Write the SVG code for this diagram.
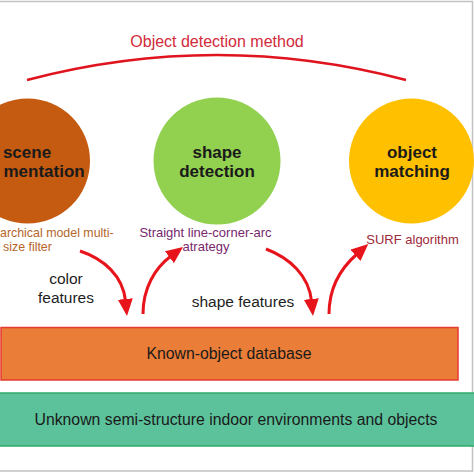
<svg xmlns="http://www.w3.org/2000/svg" width="474" height="474" viewBox="0 0 474 474">
<defs>
<style>
.t{font-family:"Liberation Sans",Arial,sans-serif}
.bold{font-weight:bold;font-size:17px;fill:#1a1a1a;text-anchor:middle}
.sub{font-size:13px}
.lbl{font-size:15.5px;fill:#1e1e1e;text-anchor:middle}
.arr{fill:none;stroke:#e8141b;stroke-width:3}
</style>
<marker id="ah" markerUnits="userSpaceOnUse" markerWidth="18" markerHeight="16" refX="2" refY="7.5" orient="auto">
<path d="M0,0 L17,7.5 L0,15 z" fill="#e8141b"/>
</marker>
</defs>
<rect x="0" y="0" width="474" height="474" fill="#ffffff"/>
<rect x="-5" y="1.5" width="477.5" height="469.5" fill="none" stroke="#c2c2c2" stroke-width="1.5"/>

<g id="title">
<path d="M27,80 Q217,30 406,80" fill="none" stroke="#e0141e" stroke-width="2.5"/>
<text class="t" x="217" y="47" font-size="16" fill="#d22a3a" text-anchor="middle">Object detection method</text>
</g>

<g id="node-scene">
<circle cx="27.5" cy="161" r="62.5" fill="#c55a11"/>
<text class="t bold" x="27" y="157.5">scene</text>
<text class="t" x="3.5" y="176.5" font-weight="bold" font-size="17" fill="#1a1a1a">mentation</text>
<text class="t" x="0" y="237" font-size="12.4" fill="#b5662b">archical model multi-</text>
<text class="t" x="3" y="251" font-size="12.4" fill="#b5662b">size filter</text>
</g>

<g id="node-shape">
<circle cx="217" cy="161" r="63.5" fill="#92d050"/>
<text class="t bold" x="217" y="157.5">shape</text>
<text class="t bold" x="217" y="176.5">detection</text>
<text class="t sub" x="205.5" y="237" fill="#78286e" text-anchor="middle">Straight line-corner-arc</text>
<text class="t sub" x="206" y="251" fill="#78286e" text-anchor="middle">atrategy</text>
</g>

<g id="node-match">
<circle cx="411.5" cy="161" r="62.5" fill="#ffc000"/>
<text class="t bold" x="412" y="157.5">object</text>
<text class="t bold" x="412" y="176.5" font-size="16.5">matching</text>
<text class="t sub" x="412.5" y="244" fill="#9e2a3a" text-anchor="middle">SURF algorithm</text>
</g>

<g id="connectors">
<path class="arr" d="M80,251 C104,259 123,276 125.5,301" marker-end="url(#ah)"/>
<path class="arr" d="M143,314 C143,288 155,268 171,256" marker-end="url(#ah)"/>
<path class="arr" d="M266,249 C290,258 309,276 311.5,301" marker-end="url(#ah)"/>
<path class="arr" d="M329,314 C329,288 341,268 357,254" marker-end="url(#ah)"/>
</g>

<g id="labels">
<text class="t lbl" x="66" y="284">color</text>
<text class="t lbl" x="66" y="303">features</text>
<text class="t lbl" x="243" y="307" font-size="16.3">shape features</text>
</g>

<g id="node-db">
<rect x="1" y="327.5" width="457" height="52.5" fill="#ea7d37" stroke="#e53a2f" stroke-width="1.5"/>
<text class="t" x="229" y="359" font-size="15.8" fill="#1a1a1a" text-anchor="middle">Known-object database</text>
</g>

<g id="node-env">
<rect x="-2" y="393" width="478" height="53" fill="#5cc29c" stroke="#2eaa68" stroke-width="1.5"/>
<text class="t" x="236" y="425" font-size="15.8" fill="#1a1a1a" text-anchor="middle">Unknown semi-structure indoor environments and objects</text>
</g>
</svg>
